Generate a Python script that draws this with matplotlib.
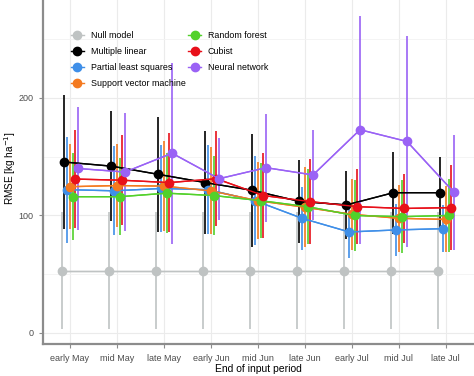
import numpy as np
import matplotlib.pyplot as plt

plt.rcParams["font.family"] = ["Liberation Sans", "DejaVu Sans"]

# periods on the x axis
periods = ["early May", "mid May", "late May", "early Jun", "mid Jun",
           "late Jun", "early Jul", "mid Jul", "late Jul"]

models = ["Null model", "Multiple linear", "Partial least squares",
          "Support vector machine", "Random forest", "Cubist", "Neural network"]

# mean RMSE per model and period
null_mean = [53, 53, 53, 53, 53, 53, 53, 53, 53]
mlr_mean = [145.5, 142, 135, 128, 121.4, 112, 109, 119.4, 119.4]
pls_mean = [122, 121, 123, 122, 112.6, 97.6, 86, 87.7, 88.8]
svm_mean = [124.5, 125.5, 125, 121, 112.6, 107, 101, 97.6, 96.7]
rf_mean = [116, 116, 119, 117, 112.6, 107.5, 100, 99, 100]
cub_mean = [131, 130, 128, 131.3, 117, 111.8, 107.5, 106, 106.7]
nn_mean = [140, 137, 153, 131.3, 140.7, 134.5, 173, 163, 119.7]

# standard deviation (error bars)
null_sd = [50, 50, 50, 50, 50, 50, 50, 50, 50]
mlr_sd = [57, 47, 49, 44, 48, 35, 29, 35, 30]
pls_sd = [45, 38, 37, 38, 38, 27, 22, 22, 20]
svm_sd = [36, 35, 38, 37, 33, 34, 30, 28.5, 28]
rf_sd = [37, 33, 34, 34, 32, 32, 30, 31, 31]
cub_sd = [42, 38.5, 42, 40.5, 36, 36, 32, 29.5, 36]
nn_sd = [52, 50, 77, 35, 46, 38, 97, 90, 49]

means = [null_mean, mlr_mean, pls_mean, svm_mean, rf_mean, cub_mean, nn_mean]
sds = [null_sd, mlr_sd, pls_sd, svm_sd, rf_sd, cub_sd, nn_sd]
colors = ["#bfc3c3", "#000000", "#3f8fe8", "#f47a20", "#52d12b", "#e8101a", "#9a62f5"]

fig = plt.figure(figsize=(4.74, 3.76), dpi=100)
ax = fig.add_axes([0.091, 0.085, 0.909, 0.915])

x = np.arange(len(periods))
dodge = 0.058

for i, (m, s, c) in enumerate(zip(means, sds, colors)):
    xs = x + (i - 3) * dodge
    m = np.array(m)
    s = np.array(s)
    ax.vlines(xs, m - s, m + s, color=c, lw=1.2, zorder=2)
    ax.plot(xs, m, color=c, lw=1.0, zorder=3)
    ax.plot(xs, m, "o", color=c, ms=6, zorder=4, label=models[i],
            linestyle="-", lw=1.0)

ax.set_xlim(-0.57, 8.6)
ax.set_ylim(-9.4, 283.4)
ax.set_xticks(x)
ax.set_xticklabels(periods)
ax.set_yticks([0, 100, 200])
ax.set_yticks([50, 150, 250], minor=True)

ax.grid(True, which="major", color="#ebebeb", lw=0.8)
ax.grid(True, which="minor", axis="y", color="#f3f3f3", lw=0.6)
ax.set_axisbelow(True)

for side in ["top", "right"]:
    ax.spines[side].set_visible(False)
for side in ["left", "bottom"]:
    ax.spines[side].set_color("#8c8c8c")
    ax.spines[side].set_linewidth(1.6)

ax.tick_params(axis="both", which="major", color="#8c8c8c", length=3,
               labelsize=6.5, labelcolor="#4d4d4d", pad=4)
ax.tick_params(axis="y", which="minor", length=0)

ax.set_xlabel("End of input period", fontsize=7.5)
ax.set_ylabel("RMSE [kg ha$^{-1}$]", fontsize=7.2)
ax.xaxis.set_label_coords(0.50, -0.057)
ax.yaxis.set_label_coords(-0.058, 0.51)

ax.legend(ncol=2, loc="upper left", bbox_to_anchor=(0.057, 0.92), frameon=False,
          borderaxespad=0, fontsize=6.4, handlelength=1.4, handletextpad=0.8,
          columnspacing=0.3, labelspacing=0.78)

fig.savefig("out.png", dpi=100)
